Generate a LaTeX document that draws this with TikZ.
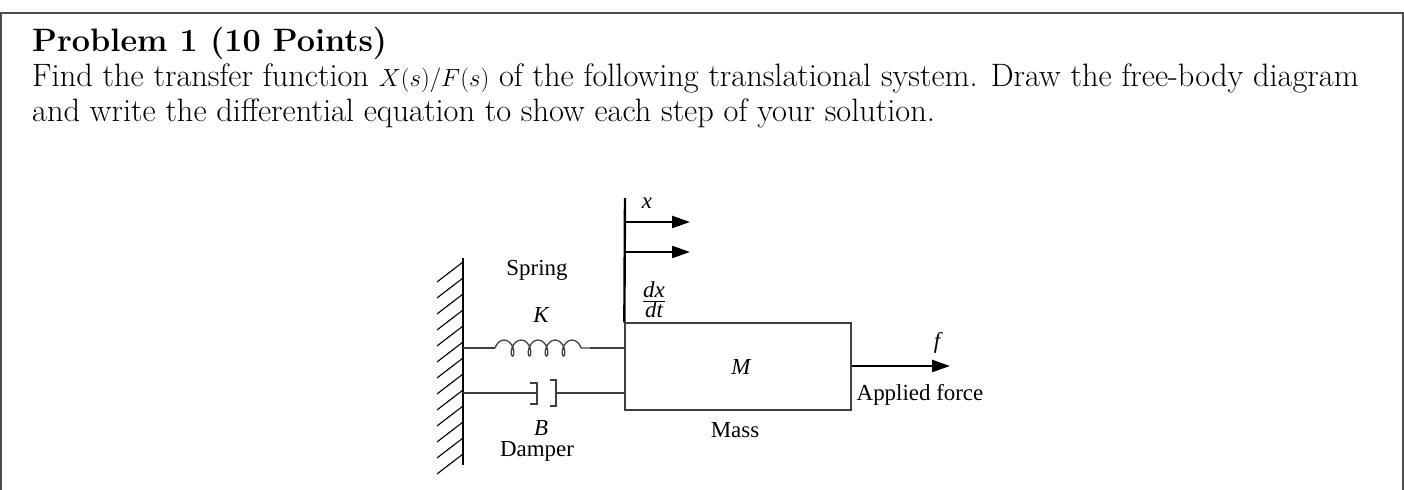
\documentclass[tikz,border=0pt]{standalone}
\usepackage{fontspec}
\newfontfamily\tms{Liberation Serif}
\usetikzlibrary{decorations.pathmorphing,arrows.meta}
\begin{document}
\begin{tikzpicture}[x=1bp,y=-1bp,
  ln/.style={line width=1.3bp,draw=black!75},
  lbl/.style={font=\tms\fontsize{23}{26}\selectfont,inner sep=0pt},
  txt/.style={font=\fontsize{32.5}{38}\selectfont,inner sep=0pt,anchor=base west},
  arr/.style={line width=2.4bp,-{Triangle[length=18bp,width=12bp]}}]
\useasboundingbox (0,0) rectangle (1404,490);
\draw[line width=1.5bp,draw=black!70] (1,490) -- (1,13) -- (1403,13) -- (1403,490);
\node[txt] (t1) at (32,52) {\bfseries Problem 1 (10 Points)};
\node[txt] (t2) at (32,87) {Find the transfer function $X(s)/F(s)$ of the following translational system. Draw the free-body diagram};
\node[txt] (t3) at (32,122) {and write the differential equation to show each step of your solution.};
% wall
\draw[line width=2bp] (463,258) coordinate (wt) -- (463,465) coordinate (wb);
\foreach \y in {268,284,...,468} \draw[line width=1.1bp] (463,\y-6) -- (437,\y+14);
% mass
\node[draw=black!75,line width=1.3bp,minimum width=226bp,minimum height=87bp,inner sep=0pt] (m) at (738,366.5) {};
\node[lbl] (M) at (741,367) {\itshape M};
\node[lbl] (mass) at (735,430) {Mass};
% spring
\coordinate (s0) at (463,348);
\coordinate (s1) at (495,348);
\coordinate (s2) at (590,348);
\draw[ln] (s0) -- (s1);
\draw[ln,decorate,decoration={coil,aspect=0.6,segment length=17bp,amplitude=8bp}] (s1) -- (s2);
\draw[ln] (s2) -- (m.west |- s2);
\node[lbl] (K) at (541,315) {\itshape K};
\node[lbl] (spring) at (537,270) {Spring};
% damper
\coordinate (d0) at (463,393);
\coordinate (d1) at (537,393);
\coordinate (d2) at (550,393);
\draw[ln] (d0) -- (d1);
\draw[ln] (530,383) -- (d1 |- 0,383) -- (d1 |- 0,404) -- (530,404);
\draw[ln] (d2 |- 0,380) -- (556,380) -- (556,406) -- (d2 |- 0,406);
\draw[ln] (556,393) -- (m.west |- d2);
\node[lbl] (B) at (541,428) {\itshape B};
\node[lbl] (damper) at (537,451) {Damper};
% motion
\coordinate (v0) at (625,198);
\draw[line width=2.4bp] (v0) -- (m.north west);
\coordinate (a1) at (690,222);
\coordinate (a2) at (690,252);
\draw[arr] (625,222) -- (a1);
\draw[arr] (625,252) -- (a2);
\node[lbl] (x) at (647,203) {\itshape x};
\node[lbl] (dxdt) at (654,300) {$\frac{\textit{\tms dx}}{\textit{\tms dt}}$};
% force
\coordinate (fe) at (950,366);
\draw[arr] (m.east |- fe) -- (fe);
\node[lbl] (f) at (937,343) {\itshape f};
\node[lbl] (af) at (920,395) {Applied force};
\end{tikzpicture}
\end{document}
